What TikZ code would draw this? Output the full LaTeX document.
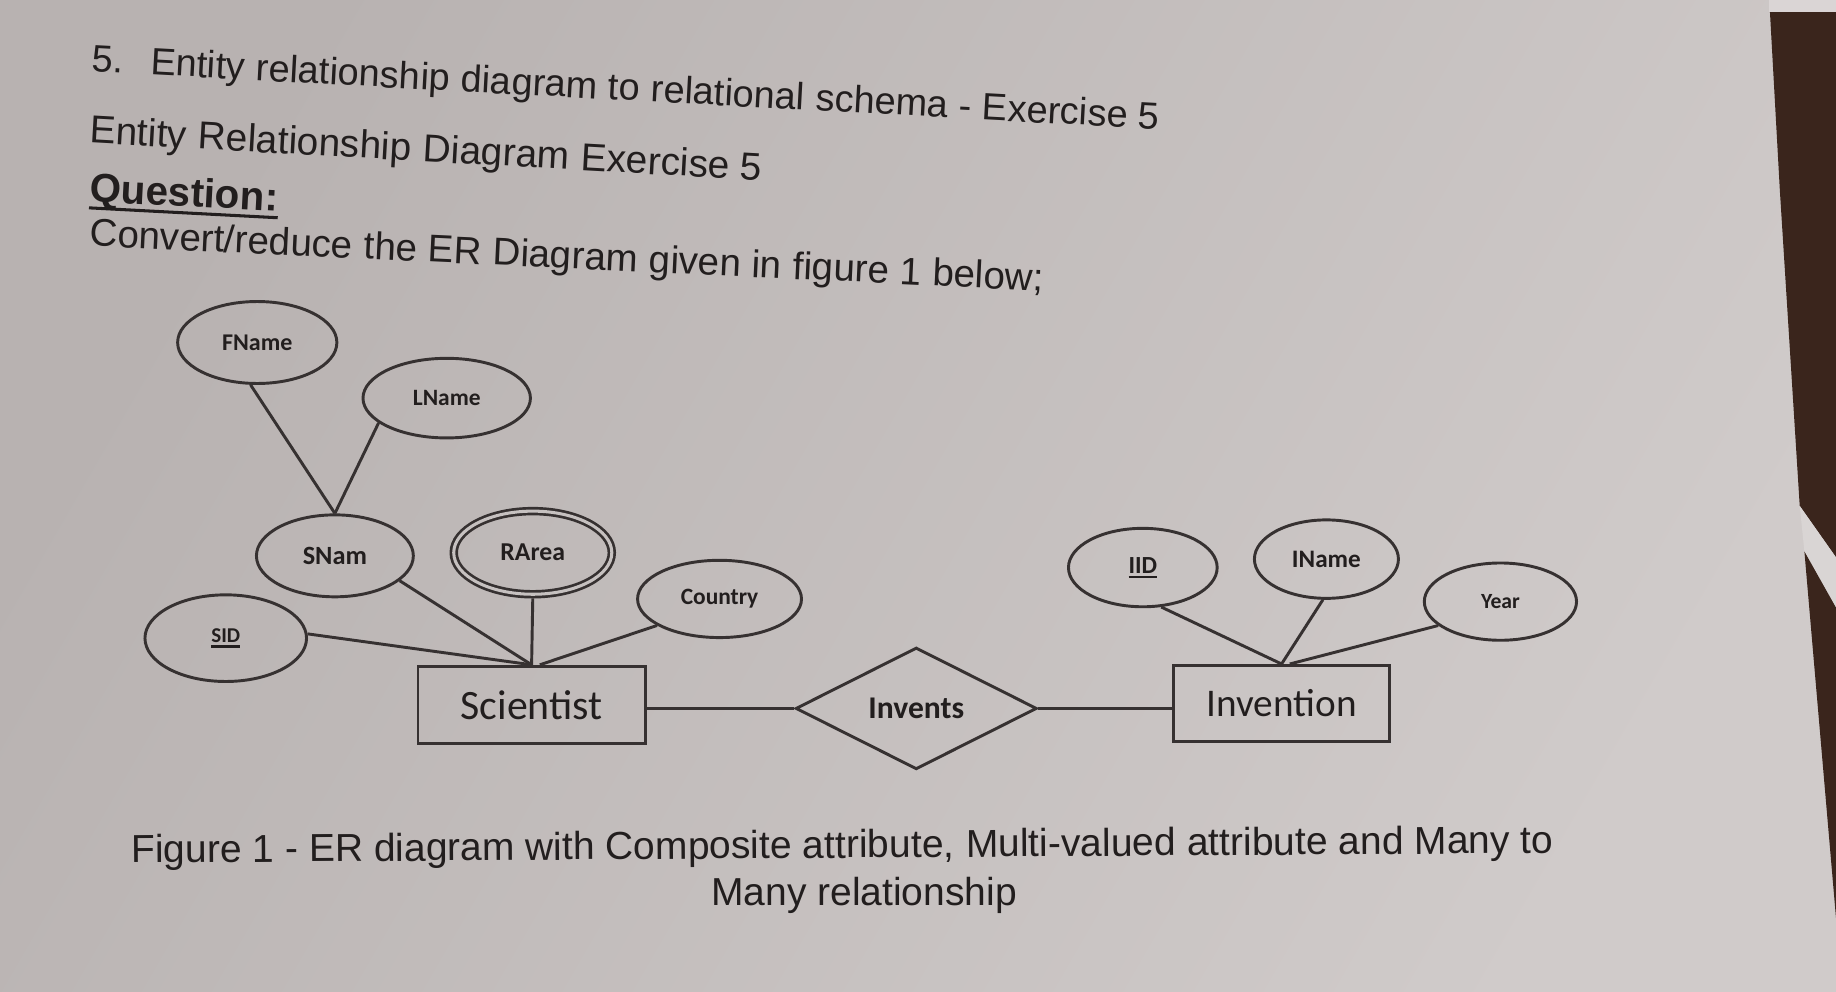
\documentclass[tikz,border=0pt]{standalone}
\usepackage{fontspec}
\setmainfont{Liberation Sans}
\newfontfamily\calfont{Carlito}
\usetikzlibrary{shapes.geometric}
\definecolor{lc}{HTML}{363131}
\definecolor{tc}{HTML}{221E1E}
\definecolor{paperdark}{HTML}{B8B2B1}
\definecolor{paperlight}{HTML}{D0CBCA}
\definecolor{wood}{HTML}{3A251C}
\definecolor{shine}{HTML}{D9D5D4}
\newcommand\fsz[1]{\fontsize{#1}{#1}\selectfont}
\newcommand\ulin[1]{\leavevmode\setbox0=\hbox{#1}\rlap{\vrule width\wd0 height -2.4pt depth 4.2pt}\box0}
\begin{document}
\begin{tikzpicture}[x=1pt,y=-1pt,
  attr/.style={draw=lc, line width=2.5pt, ellipse, inner sep=0pt, text=tc, font=\calfont\bfseries},
  ent/.style={draw=lc, line width=2.5pt, rectangle, inner sep=0pt, text=tc},
  rel/.style={draw=lc, line width=2.5pt, diamond, shape aspect=2, inner sep=0pt, text=tc, font=\calfont\bfseries\fsz{27}},
  conn/.style={draw=lc, line width=2.5pt},
  head/.style={anchor=base west, inner sep=0pt, text=tc}
]
\useasboundingbox (0,0) rectangle (1568,847);
% paper and background
\shade[left color=paperdark, right color=paperlight, shading angle=60] (0,0) rectangle (1568,847);
\fill[wood] (1511,0) -- (1568,0) -- (1568,476) -- (1537,432) -- (1520,162) -- cycle;
\fill[shine] (1537,432) -- (1568,476) -- (1568,519) -- (1541,471) -- cycle;
\fill[wood] (1541,471) -- (1568,519) -- (1568,784) -- cycle;
\fill[paperlight!80!white] (1511,0) rectangle (1568,10);

% headings (set word by word along their slanted base lines)
\begin{scope}[every node/.append style={head, rotate=-3.1, font=\fsz{32.4}}]
\node (t1a) at (78,61) {5.\hspace{0.71em}Entity};
\node (t1b) at (t1a.base east) {\ relationship};
\node (t1c) at (t1b.base east) {\ diagram to};
\node (t1d) at (t1c.base east) {\ relational};
\node (t1e) at (t1d.base east) {\ schema -};
\node (t1f) at (t1e.base east) {\ Exercise 5};
\end{scope}
\begin{scope}[every node/.append style={head, rotate=-3.2, font=\fsz{33.2}}]
\node (t2a) at (76,122) {Entity};
\node (t2b) at (t2a.base east) {\ Relationship};
\node (t2c) at (t2b.base east) {\ Diagram};
\node (t2d) at (t2c.base east) {\ Exercise 5};
\end{scope}
\node[head, rotate=-3.0, font=\bfseries\fsz{34.5}] (q) at (76,172) {Question:};
\draw[draw=tc, line width=2.6pt] ([yshift=-5.5pt]q.base west) -- ([yshift=-5.5pt]q.base east);
\begin{scope}[every node/.append style={head, rotate=-2.7, font=\fsz{32.9}}]
\node (t4a) at (76,210) {Convert/reduce};
\node (t4b) at (t4a.base east) {\ the ER};
\node (t4c) at (t4b.base east) {\ Diagram};
\node (t4d) at (t4c.base east) {\ given in};
\node (t4e) at (t4d.base east) {\ figure 1};
\node (t4f) at (t4e.base east) {\ below;};
\end{scope}

% attributes
\node[attr, minimum width=136pt, minimum height=70pt, font=\calfont\bfseries\fsz{20.5}] (FName) at (219.7,292.5) {FName};
\node[attr, minimum width=143pt, minimum height=68pt, font=\calfont\bfseries\fsz{20}] (LName) at (381.5,340) {LName};
\node[attr, minimum width=134pt, minimum height=70pt, font=\calfont\bfseries\fsz{22.5}] (SNam) at (286,474.7) {SNam};
\node[attr, minimum width=135pt, minimum height=71pt, font=\calfont\bfseries\fsz{22}, line width=2.3pt, double=paperlight!60!paperdark, double distance=2.6pt, outer sep=3.6pt] (RArea) at (455,472) {RArea};
\node[attr, minimum width=140pt, minimum height=66pt, font=\calfont\bfseries\fsz{20}] (Country) at (614.5,511.5) {Country};
\node[attr, minimum width=138pt, minimum height=74pt, font=\calfont\bfseries\fsz{18}] (SID) at (192.8,545) {\ulin{SID}};
\node[attr, minimum width=127pt, minimum height=67pt, font=\calfont\bfseries\fsz{21}] (IID) at (976,484.7) {\ulin{IID}};
\node[attr, minimum width=123pt, minimum height=67pt, font=\calfont\bfseries\fsz{21.5}] (IName) at (1132.8,477.5) {IName};
\node[attr, minimum width=130pt, minimum height=66pt, font=\calfont\bfseries\fsz{18.5}] (Year) at (1281.4,513.8) {Year};

% entities and relationship
\node[ent, minimum width=194pt, minimum height=66pt, font=\calfont\fsz{35.7}] (Scientist) at (454,602) {Scientist};
\node[rel, minimum width=206pt, minimum height=104pt] (Invents) at (782.5,605) {Invents};
\node[ent, minimum width=185pt, minimum height=65pt, font=\calfont\fsz{33.5}] (Invention) at (1094.5,600.8) {Invention};

% connectors
\draw[conn] (FName.261) -- (SNam.north);
\draw[conn] (LName.200) -- (SNam.north);
\draw[conn] (SNam.-21) -- (Scientist.north);
\draw[conn] (RArea.south) -- (Scientist.north);
\draw[conn] (Country.203) -- ([xshift=7pt]Scientist.north);
\draw[conn] (SID.3) -- (Scientist.north);
\draw[conn] (Invents.west -| Scientist.east) -- (Invents.west);
\draw[conn] (Invents.east) -- (Invents.east -| Invention.west);
\draw[conn] (IID.-65) -- (Invention.north);
\draw[conn] (IName.265) -- (Invention.north);
\draw[conn] (Year.201) -- ([xshift=7pt]Invention.north);

% caption
\begin{scope}[every node/.append style={head, rotate=0.4, font=\fsz{33.3}}]
\node (cap1a) at (112,737) {Figure 1 - ER diagram with Composite attribute,};
\node (cap1b) at (cap1a.base east) {\ Multi-valued attribute and Many to};
\end{scope}
\node[anchor=base, inner sep=0pt, text=tc, font=\fsz{33.3}] (cap2) at (738,773) {Many relationship};
\end{tikzpicture}
\end{document}
